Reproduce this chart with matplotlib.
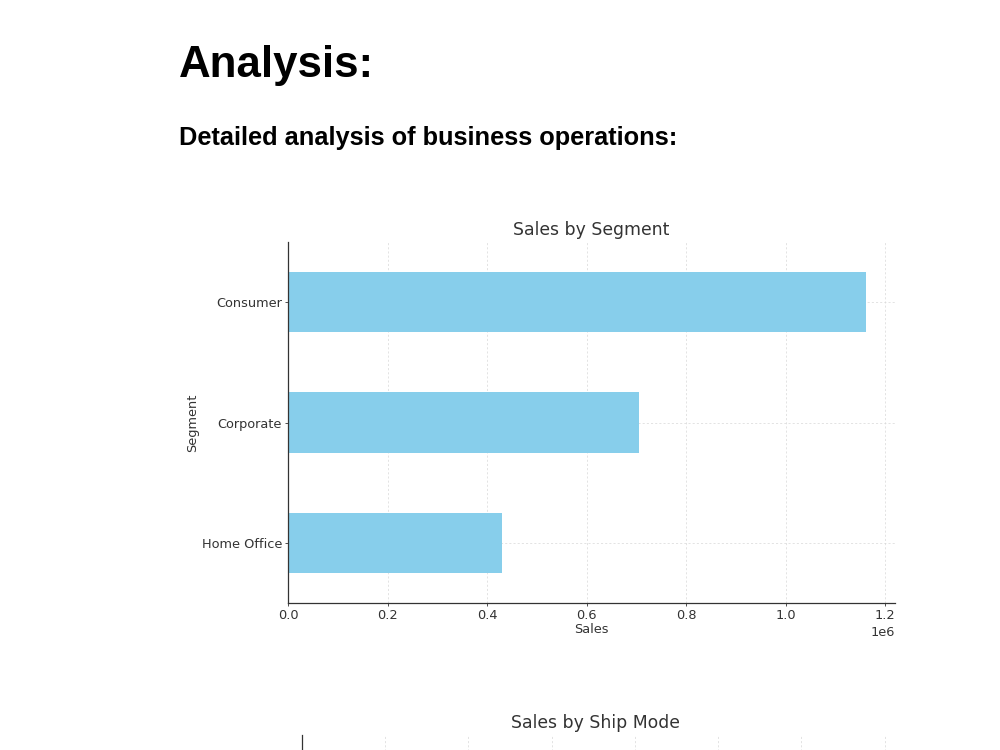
import matplotlib
matplotlib.use("Agg")
import matplotlib.pyplot as plt
from matplotlib import font_manager as fm

# Data
segments = ["Home Office", "Corporate", "Consumer"]
segment_sales = [429653, 706146, 1161401]

ship_modes = ["Same Day", "First Class", "Second Class", "Standard Class"]
ship_sales = [128363, 351428, 459194, 1340831]

page_title = "Analysis:"
page_subtitle = "Detailed analysis of business operations:"

TXT = "#333333"
BAR = "#87CEEB"


def bold_sans():
    for f in fm.fontManager.ttflist:
        if f.name == "Liberation Sans" and f.weight in (700, "bold") \
                and "Narrow" not in f.fname and f.style == "normal":
            return fm.FontProperties(fname=f.fname)
    return fm.FontProperties(family="Liberation Sans", weight="bold")


fig = plt.figure(figsize=(10, 7.5), dpi=100)
fig.patch.set_facecolor("white")

hp = bold_sans()
hp1 = hp.copy(); hp1.set_size(31.6)
hp2 = hp.copy(); hp2.set_size(18.3)
fig.text(0.179, 1 - 77 / 750, page_title, fontproperties=hp1,
         color="black", ha="left", va="baseline")
fig.text(0.179, 1 - 145 / 750, page_subtitle, fontproperties=hp2,
         color="black", ha="left", va="baseline")


def style_axes(ax, title):
    ax.set_title(title, fontsize=12.4, color=TXT, pad=5)
    for s in ("top", "right"):
        ax.spines[s].set_visible(False)
    for s in ("left", "bottom"):
        ax.spines[s].set_color("#333333")
        ax.spines[s].set_linewidth(0.9)
    ax.tick_params(axis="both", labelsize=9.3, colors=TXT, length=2.5,
                   width=0.6, pad=1.8)
    ax.xaxis.get_offset_text().set_fontsize(9.3)
    ax.xaxis.get_offset_text().set_color(TXT)
    ax.grid(True, linestyle=(0, (3, 3)), linewidth=0.5, color="#d8d8d8")
    ax.set_axisbelow(True)


# Chart 1: Sales by Segment
ax1 = fig.add_axes([0.288, 1 - 603 / 750, 0.607, (603 - 242) / 750])
ax1.barh(segments, segment_sales, height=0.5, color=BAR)
ax1.set_ylim(-0.5, len(segments) - 0.5)
style_axes(ax1, "Sales by Segment")
ax1.set_xlabel("Sales", fontsize=9.3, color=TXT, labelpad=1)
ax1.set_ylabel("Segment", fontsize=9.3, color=TXT, labelpad=2)

# Chart 2: Sales by Ship Mode (only top portion visible on the page)
ax2 = fig.add_axes([0.302, 1 - 735 / 750 - 0.48, 0.586, 0.48])
ax2.barh(ship_modes, ship_sales, height=0.5, color=BAR)
ax2.set_ylim(-0.5, len(ship_modes) - 0.5)
style_axes(ax2, "Sales by Ship Mode")
ax2.tick_params(labelleft=False, labelbottom=False, left=False, bottom=False)
ax2.xaxis.get_offset_text().set_visible(False)

fig.savefig("out.png", dpi=100, facecolor="white")
